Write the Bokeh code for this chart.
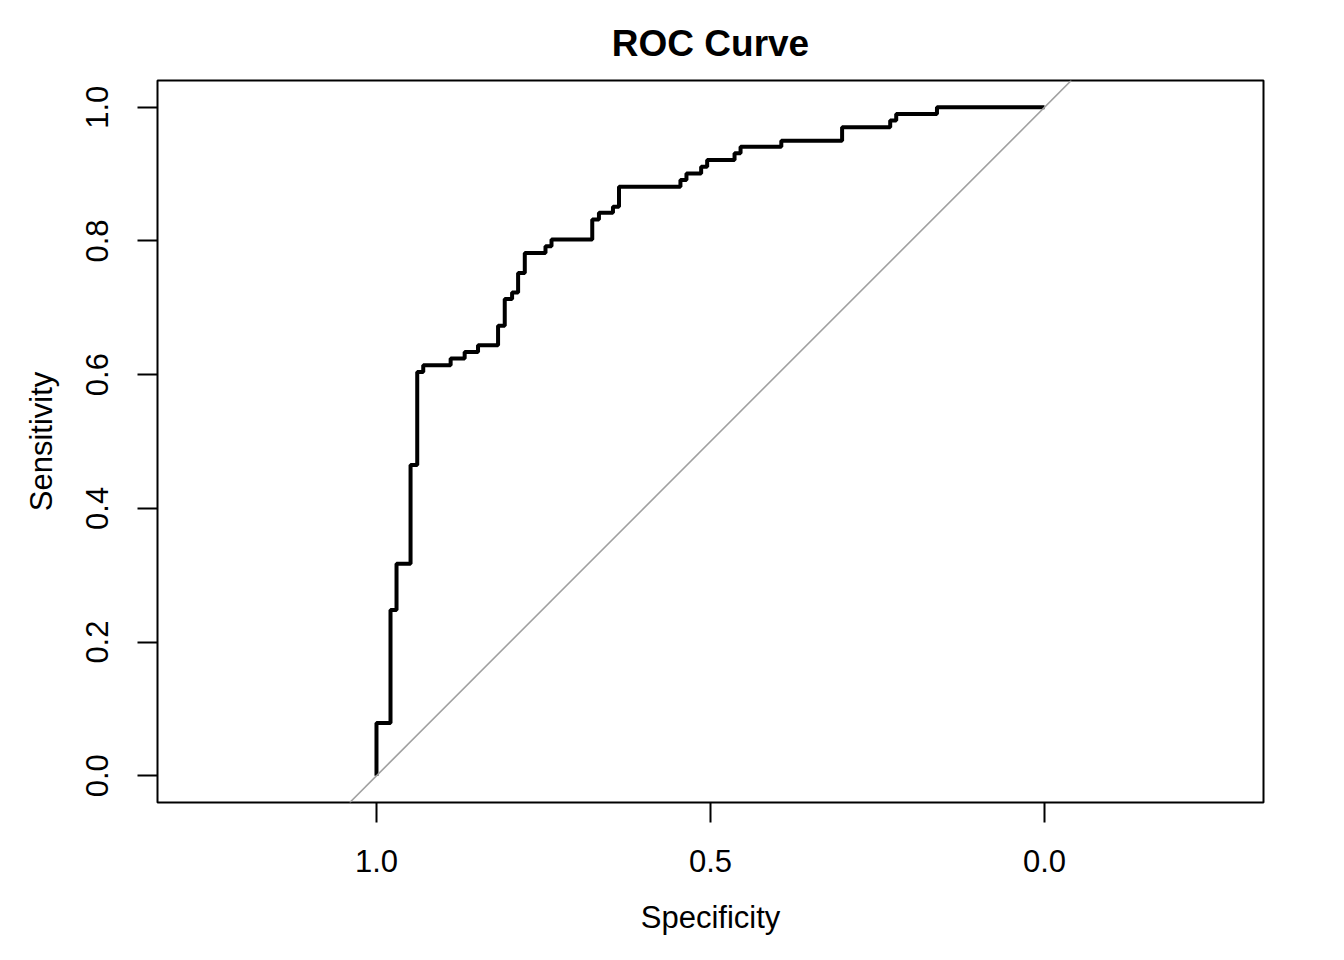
from bokeh.plotting import figure
from bokeh.models import Range1d, FixedTicker, Slope
from bokeh.embed import file_html
from bokeh.resources import INLINE

# ROC step curve (specificity, sensitivity)
specificity = [1.000, 1.000, 0.979, 0.979, 0.970, 0.970, 0.949, 0.949, 0.939, 0.939,
               0.930, 0.930, 0.889, 0.889, 0.868, 0.868, 0.848, 0.848, 0.818, 0.818,
               0.808, 0.808, 0.797, 0.797, 0.788, 0.788, 0.778, 0.778, 0.747, 0.747,
               0.738, 0.738, 0.677, 0.677, 0.667, 0.667, 0.646, 0.646, 0.637, 0.637,
               0.545, 0.545, 0.536, 0.536, 0.514, 0.514, 0.505, 0.505, 0.464, 0.464,
               0.455, 0.455, 0.394, 0.394, 0.303, 0.303, 0.231, 0.231, 0.222, 0.222,
               0.161, 0.161, 0.000]
sensitivity = [0.000, 0.079, 0.079, 0.248, 0.248, 0.317, 0.317, 0.465, 0.465, 0.604,
               0.604, 0.614, 0.614, 0.624, 0.624, 0.634, 0.634, 0.644, 0.644, 0.673,
               0.673, 0.713, 0.713, 0.723, 0.723, 0.752, 0.752, 0.782, 0.782, 0.792,
               0.792, 0.802, 0.802, 0.832, 0.832, 0.842, 0.842, 0.851, 0.851, 0.881,
               0.881, 0.891, 0.891, 0.901, 0.901, 0.911, 0.911, 0.921, 0.921, 0.931,
               0.931, 0.941, 0.941, 0.950, 0.950, 0.970, 0.970, 0.980, 0.980, 0.990,
               0.990, 1.000, 1.000]

x_ticks = [1.0, 0.5, 0.0]
y_ticks = [0.0, 0.2, 0.4, 0.6, 0.8, 1.0]
x_tick_labels = {1.0: "1.0", 0.5: "0.5", 0.0: "0.0"}
y_tick_labels = {0.0: "0.0", 0.2: "0.2", 0.4: "0.4", 0.6: "0.6", 0.8: "0.8", 1.0: "1.0"}

FONT = "Liberation Sans"

p = figure(
    frame_width=1106, frame_height=722,
    x_range=Range1d(1.3278, -0.3278),
    y_range=Range1d(-0.04, 1.04),
    output_backend="svg", toolbar_location=None,
    title="ROC Curve",
    min_border_left=157, min_border_right=73,
    min_border_top=80, min_border_bottom=150,
    background_fill_color="white", border_fill_color="white",
)

p.grid.visible = False
p.outline_line_color = "black"
p.outline_line_width = 2

p.title.text_font = FONT
p.title.text_font_size = "37px"
p.title.text_font_style = "bold"
p.title.text_color = "black"
p.title.align = "center"
p.title.standoff = 33

# diagonal reference line
p.add_layout(Slope(gradient=-1, y_intercept=1, line_color="#a0a0a0", line_width=1.6))

p.line(specificity, sensitivity, line_color="black", line_width=4)

for ax, ticks, labels, lab in ((p.xaxis[0], x_ticks, x_tick_labels, "Specificity"),
                               (p.yaxis[0], y_ticks, y_tick_labels, "Sensitivity")):
    ax.ticker = FixedTicker(ticks=ticks)
    ax.major_label_overrides = labels
    ax.minor_tick_line_color = None
    ax.axis_line_color = None
    ax.major_tick_line_color = "black"
    ax.major_tick_line_width = 2
    ax.major_tick_out = 20
    ax.major_tick_in = 0
    ax.major_label_text_font = FONT
    ax.major_label_text_font_size = "31px"
    ax.major_label_text_color = "black"
    ax.axis_label = lab
    ax.axis_label_text_font = FONT
    ax.axis_label_text_font_size = "31px"
    ax.axis_label_text_font_style = "normal"
    ax.axis_label_text_color = "black"

p.xaxis.major_label_standoff = 27
p.xaxis.axis_label_standoff = 25
p.yaxis.major_label_orientation = "vertical"
p.yaxis.major_label_standoff = 29
p.yaxis.axis_label_standoff = 25

open("out.html", "w").write(file_html(p, INLINE))
